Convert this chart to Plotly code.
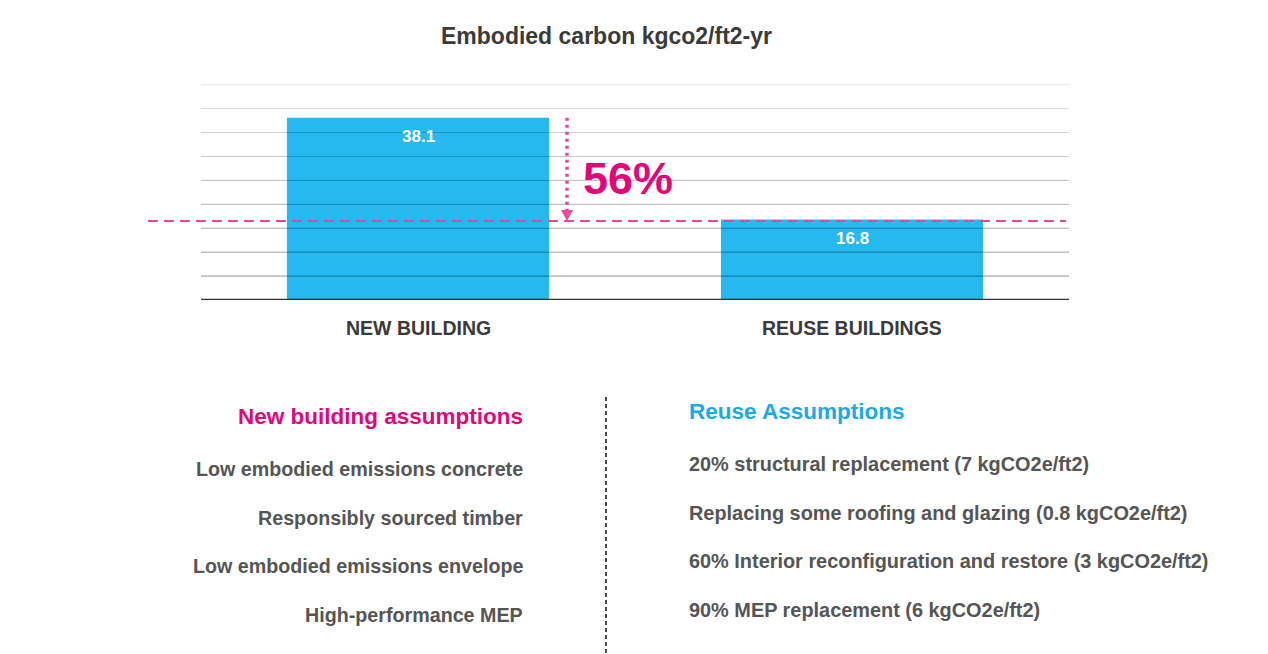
import plotly.graph_objects as go

W, H = 1268, 654

categories = ["NEW BUILDING", "REUSE BUILDINGS"]
values = [38.1, 16.8]
value_labels = ["38.1", "16.8"]
grid_values = [5, 10, 15, 20, 25, 30, 35, 40, 45]
reduction_label = "56%"
title_text = "Embodied carbon kgco2/ft2-yr"

new_heading = "New building assumptions"
new_items = [
    "Low embodied emissions concrete",
    "Responsibly sourced timber",
    "Low embodied emissions envelope",
    "High-performance MEP",
]
reuse_heading = "Reuse Assumptions"
reuse_items = [
    "20% structural replacement (7 kgCO2e/ft2)",
    "Replacing some roofing and glazing (0.8 kgCO2e/ft2)",
    "60% Interior reconfiguration and restore (3 kgCO2e/ft2)",
    "90% MEP replacement (6 kgCO2e/ft2)",
]

FONT = "Liberation Sans, Arial, sans-serif"
BLUE = "#25B9EF"
PINK = "#E2067A"
PINK_LINE = "#DE4A9E"
GRAY = "#555555"
DARK = "#3A3A3A"


def px(x):
    return x / W


def py(y):
    return 1 - y / H


PX_PER_UNIT = (300 - 60.75) / 50.0

fig = go.Figure()
fig.add_trace(go.Bar(
    x=categories, y=values, marker=dict(color=BLUE, line=dict(width=0)),
    hoverinfo="skip", showlegend=False,
))

shapes = []
# gridlines drawn above bars, darker toward the bottom
n = len(grid_values)
for i, g in enumerate(grid_values):
    a = 0.42 - 0.32 * i / (n - 1)
    shapes.append(dict(type="line", xref="paper", yref="y", x0=px(201), x1=px(1069),
                       y0=g, y1=g, line=dict(color=f"rgba(0,0,0,{a:.3f})", width=1), layer="above"))
# baseline
shapes.append(dict(type="line", xref="paper", yref="y", x0=px(201), x1=px(1069),
                   y0=0, y1=0, line=dict(color="#333333", width=2.5), layer="above"))
# dashed horizontal at reuse level
line_level = values[1] - 0.3
shapes.append(dict(type="line", xref="paper", yref="y", x0=px(148), x1=px(1066),
                   y0=line_level, y1=line_level,
                   line=dict(color=PINK_LINE, width=2, dash="10px,6px"), layer="above"))
# dotted vertical arrow shaft
ax = px(567)
head_h = 11 / PX_PER_UNIT
shapes.append(dict(type="line", xref="paper", yref="y", x0=ax, x1=ax,
                   y0=values[0], y1=line_level + head_h,
                   line=dict(color=PINK_LINE, width=3.5, dash="3px,4px"), layer="above"))
# arrow head
hw = 6 / W
shapes.append(dict(type="path", xref="paper", yref="y",
                   path=f"M {ax - hw} {line_level + head_h} L {ax + hw} {line_level + head_h} L {ax} {line_level} Z",
                   fillcolor="#F0489E", line=dict(width=0), layer="above"))
# vertical divider
shapes.append(dict(type="line", xref="paper", yref="paper", x0=px(606), x1=px(606),
                   y0=py(397), y1=py(656),
                   line=dict(color="#111111", width=1.5, dash="4px,3px")))

annotations = []
annotations.append(dict(text=f"<b>{title_text}</b>", x=px(606), y=py(36), xref="paper", yref="paper",
                        showarrow=False, xanchor="center", yanchor="middle",
                        font=dict(family=FONT, size=23, color=DARK)))
for c, v, lab in zip(categories, values, value_labels):
    annotations.append(dict(text=f"<b>{lab}</b>", x=c, y=v, xref="x", yref="y", showarrow=False,
                            xanchor="center", yanchor="top", yshift=-7,
                            font=dict(family=FONT, size=17, color="white")))
    annotations.append(dict(text=f"<b>{c}</b>", x=c, y=py(328), xref="x", yref="paper", showarrow=False,
                            xanchor="center", yanchor="middle",
                            font=dict(family=FONT, size=19.5, color=DARK)))
annotations.append(dict(text=f"<b>{reduction_label}</b>", x=px(581), y=py(178), xref="paper", yref="paper",
                        showarrow=False, xanchor="left", yanchor="middle",
                        font=dict(family=FONT, size=45, color=PINK)))

annotations.append(dict(text=f"<b>{new_heading}</b>", x=px(525), y=py(416), xref="paper", yref="paper",
                        showarrow=False, xanchor="right", yanchor="middle",
                        font=dict(family=FONT, size=22.5, color=PINK)))
for i, t in enumerate(new_items):
    annotations.append(dict(text=f"<b>{t}</b>", x=px(525), y=py(469 + 48.7 * i), xref="paper", yref="paper",
                            showarrow=False, xanchor="right", yanchor="middle",
                            font=dict(family=FONT, size=19.7, color=GRAY)))
annotations.append(dict(text=f"<b>{reuse_heading}</b>", x=px(687), y=py(411), xref="paper", yref="paper",
                        showarrow=False, xanchor="left", yanchor="middle",
                        font=dict(family=FONT, size=22.5, color="#1AAAE6")))
for i, t in enumerate(reuse_items):
    annotations.append(dict(text=f"<b>{t}</b>", x=px(687), y=py(464 + 48.7 * i), xref="paper", yref="paper",
                            showarrow=False, xanchor="left", yanchor="middle",
                            font=dict(family=FONT, size=19.9, color=GRAY)))

fig.update_layout(
    width=W, height=H,
    margin=dict(l=0, r=0, t=0, b=0),
    paper_bgcolor="white", plot_bgcolor="white",
    bargap=0.396,
    xaxis=dict(domain=[px(201), px(1069)], range=[-0.5, 1.5], showticklabels=False,
               showgrid=False, zeroline=False, showline=False, fixedrange=True),
    yaxis=dict(domain=[py(300), py(60.75)], range=[0, 50], showticklabels=False,
               showgrid=False, zeroline=False, showline=False, fixedrange=True),
    shapes=shapes,
    annotations=annotations,
    showlegend=False,
)

fig.write_html("out.html", config={"displayModeBar": False},
               post_script="document.body.style.margin='0px';document.body.style.overflow='hidden';")
